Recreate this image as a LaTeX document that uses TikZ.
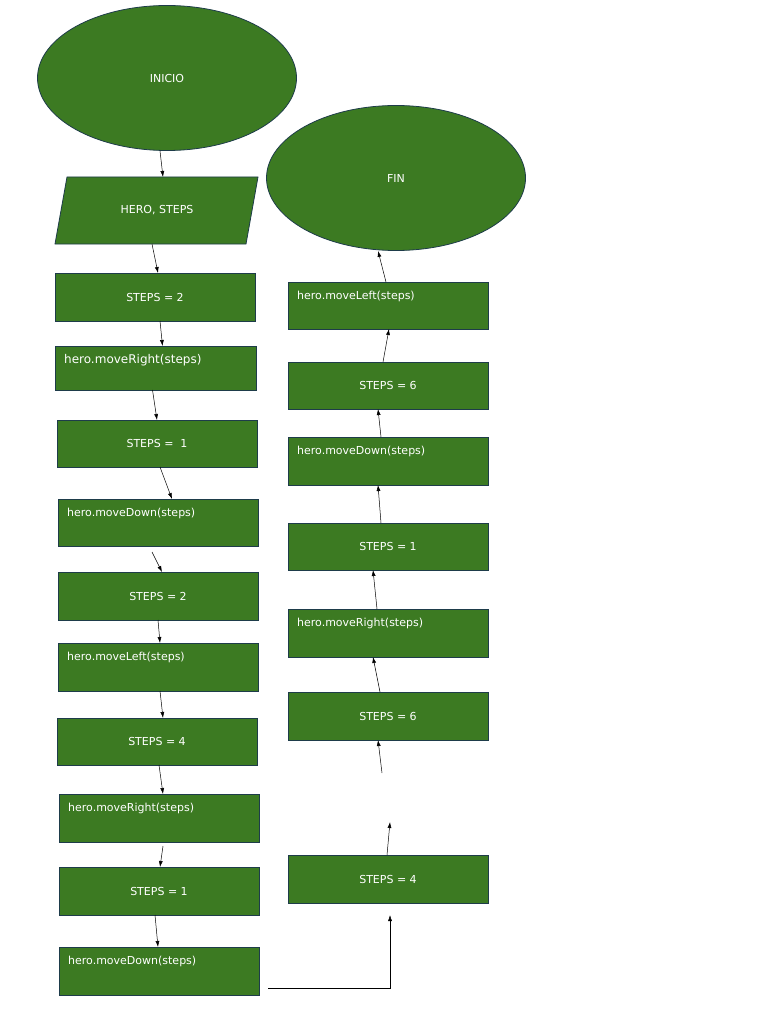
\documentclass[tikz,border=0pt]{standalone}
\usepackage{fontspec}
\setmainfont{DejaVu Sans}
\usetikzlibrary{shapes.geometric,arrows.meta}
\definecolor{gfill}{HTML}{3C7A22}
\definecolor{gline}{HTML}{1E3C4A}
\tikzset{
  box/.style={draw=gline,fill=gfill,line width=0.8pt},
  lbl/.style={text=white,font=\fontsize{11}{13}\selectfont,inner sep=0pt},
  arr/.style={-{Latex[length=6pt,width=4pt]},line width=0.5pt,black},
  blk/.style={draw=gline,fill=gfill,line width=0.8pt,minimum width=200pt,text=white,font=\fontsize{11}{13}\selectfont}
}
\begin{document}
\begin{tikzpicture}[x=1pt,y=-1pt]
\useasboundingbox (0,0) rectangle (768,1024);
% ellipses
\node[ellipse,box,minimum width=259pt,minimum height=145pt,lbl] (inicio) at (167,78) {INICIO};
\node[ellipse,box,minimum width=259pt,minimum height=145pt,lbl] (fin) at (396,178) {FIN};
% parallelogram
\draw[box] (67,177) -- (258,177) -- (246,244) -- (55,244) -- cycle;
\node[lbl] (par) at (157,210) {HERO, STEPS};
\coordinate (parT) at (163,177);
\coordinate (parB) at (152,244);
% left boxes
\newcommand{\cbox}[6]{\draw[box] (#2,#3) rectangle (#4,#5);
  \node[lbl] (#1) at ({(#2+#4)/2},{(#3+#5)/2}) {#6};
  \coordinate (#1n) at ({(#2+#4)/2},#3); \coordinate (#1s) at ({(#2+#4)/2},#5);}
\newcommand{\lbox}[6]{\draw[box] (#2,#3) rectangle (#4,#5);
  \node[lbl,anchor=west] (#1) at (#2+9,#3+14) {#6};
  \coordinate (#1n) at ({(#2+#4)/2},#3); \coordinate (#1s) at ({(#2+#4)/2},#5);}
\cbox{a1}{55}{273}{255}{321}{STEPS = 2}
\lbox{a2}{55}{346}{256}{390}{\fontsize{12}{14}\selectfont hero.moveRight(steps)}
\cbox{a3}{57}{420}{257}{467}{STEPS =\ \ 1}
\lbox{a4}{58}{499}{258}{546}{hero.moveDown(steps)}
\cbox{a5}{58}{572}{258}{620}{STEPS = 2}
\lbox{a6}{58}{643}{258}{691}{hero.moveLeft(steps)}
\cbox{a7}{57}{718}{257}{765}{STEPS = 4}
\lbox{a8}{59}{794}{259}{842}{hero.moveRight(steps)}
\cbox{a9}{59}{867}{259}{915}{STEPS = 1}
\lbox{a10}{59}{947}{259}{995}{hero.moveDown(steps)}
% right boxes
\lbox{b1}{288}{282}{488}{329}{hero.moveLeft(steps)}
\cbox{b2}{288}{362}{488}{409}{STEPS = 6}
\lbox{b3}{288}{437}{488}{485}{hero.moveDown(steps)}
\cbox{b4}{288}{523}{488}{570}{STEPS = 1}
\lbox{b5}{288}{609}{488}{657}{hero.moveRight(steps)}
\cbox{b6}{288}{692}{488}{740}{STEPS = 6}
\cbox{b7}{288}{855}{488}{903}{STEPS = 4}
% arrows left column
\draw[arr] ([xshift=-7pt]inicio.south) -- (parT);
\draw[arr] (parB) -- ([xshift=3pt]a1n);
\draw[arr] ([xshift=5pt]a1s) -- ([xshift=7pt]a2n);
\draw[arr] ([xshift=-3pt]a2s) -- (a3n);
\draw[arr] ([xshift=3pt]a3s) -- ([xshift=14pt]a4n);
\draw[arr] ([xshift=-6pt,yshift=-6pt]a4s) -- ([xshift=4pt]a5n);
\draw[arr] (a5s) -- ([xshift=2pt]a6n);
\draw[arr] ([xshift=2pt]a6s) -- ([xshift=6pt]a7n);
\draw[arr] ([xshift=2pt]a7s) -- ([xshift=4pt]a8n);
\draw[arr] ([xshift=4pt,yshift=-4pt]a8s) -- ([xshift=1pt]a9n);
\draw[arr] ([xshift=-4pt]a9s) -- ([xshift=-1pt]a10n);
% connector to right column
\coordinate (e1) at (268,988);
\coordinate (e2) at (390,988);
\coordinate (e3) at (390,915);
\draw[arr] (e1) -- (e2) -- (e3);
\coordinate (g1) at (390,822);
\draw[arr] ([xshift=-1pt]b7n) -- (g1);
\coordinate (g2) at (382,773);
\draw[arr] (g2) -- ([xshift=-10pt]b6s);
\draw[arr] ([xshift=-8pt]b6n) -- ([xshift=-15pt]b5s);
\draw[arr] ([xshift=-11pt]b5n) -- ([xshift=-15pt]b4s);
\draw[arr] ([xshift=-7pt]b4n) -- ([xshift=-10pt]b3s);
\draw[arr] ([xshift=-7pt]b3n) -- ([xshift=-10pt]b2s);
\draw[arr] ([xshift=-5pt]b2n) -- ([xshift=1pt]b1s);
\draw[arr] ([xshift=-2pt]b1n) -- ([xshift=-18pt]fin.south);
\end{tikzpicture}
\end{document}
